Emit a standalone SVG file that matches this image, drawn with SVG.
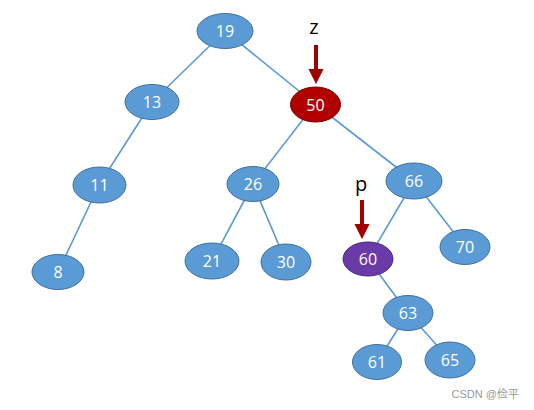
<svg xmlns="http://www.w3.org/2000/svg" width="534" height="410" viewBox="0 0 534 410">
<defs>
<style>
.n ellipse{fill:#5b9bd5;stroke:#41719c;stroke-width:1}
.n text{fill:#fff;font-family:"Open Sans","Liberation Sans",sans-serif;font-size:16px;text-anchor:middle;dominant-baseline:central}
#n50 ellipse{fill:#b00000;stroke:#7a0000}
#n60 ellipse{fill:#6a3aa8;stroke:#4a2880}
.e line{stroke:#5b9bd5;stroke-width:1.6}
.lbl{font-family:"Open Sans","Liberation Sans",sans-serif;font-size:20px;fill:#000;text-anchor:middle}
.ar{stroke:#a00000;stroke-width:4;fill:none}
</style>
<marker id="ah" viewBox="0 0 10 10" refX="2" refY="5" markerWidth="3.8" markerHeight="3.8" orient="auto" markerUnits="strokeWidth">
<path d="M0,0 L10,5 L0,10 z" fill="#a00000"/>
</marker>
</defs>
<rect width="534" height="410" fill="#fff"/>
<g id="edges" class="e">
<line x1="225" y1="31" x2="152" y2="102"/>
<line x1="225" y1="31" x2="315" y2="104"/>
<line x1="152" y1="102" x2="99" y2="185"/>
<line x1="99" y1="185" x2="58" y2="272"/>
<line x1="315" y1="104" x2="253" y2="184"/>
<line x1="315" y1="104" x2="414" y2="181"/>
<line x1="253" y1="184" x2="212" y2="261"/>
<line x1="253" y1="184" x2="286" y2="262"/>
<line x1="414" y1="181" x2="368" y2="259"/>
<line x1="414" y1="181" x2="465" y2="247"/>
<line x1="368" y1="259" x2="408" y2="313"/>
<line x1="408" y1="313" x2="377" y2="362"/>
<line x1="408" y1="313" x2="450" y2="360"/>
</g>
<g id="n19" class="n"><ellipse cx="225" cy="31" rx="28" ry="17.5"/><text x="225" y="31">19</text></g>
<g id="n13" class="n"><ellipse cx="152" cy="102" rx="27" ry="17.5"/><text x="152" y="102">13</text></g>
<g id="n50" class="n"><ellipse cx="315.5" cy="104.5" rx="25" ry="17.5"/><text x="315.5" y="104.5">50</text></g>
<g id="n11" class="n"><ellipse cx="99.5" cy="185" rx="26.5" ry="18"/><text x="99.5" y="185">11</text></g>
<g id="n8" class="n"><ellipse cx="58" cy="272" rx="26" ry="17.5"/><text x="58" y="272">8</text></g>
<g id="n26" class="n"><ellipse cx="253" cy="184" rx="26" ry="17.5"/><text x="253" y="184">26</text></g>
<g id="n21" class="n"><ellipse cx="212" cy="261" rx="27" ry="18"/><text x="212" y="261">21</text></g>
<g id="n30" class="n"><ellipse cx="286" cy="262" rx="25" ry="18"/><text x="286" y="262">30</text></g>
<g id="n66" class="n"><ellipse cx="414" cy="181" rx="28" ry="18"/><text x="414" y="181">66</text></g>
<g id="n70" class="n"><ellipse cx="465" cy="247" rx="25" ry="17.5"/><text x="465" y="247">70</text></g>
<g id="n60" class="n"><ellipse cx="368" cy="259" rx="25" ry="17"/><text x="368" y="259">60</text></g>
<g id="n63" class="n"><ellipse cx="408" cy="313" rx="25" ry="17.5"/><text x="408" y="313">63</text></g>
<g id="n61" class="n"><ellipse cx="377" cy="362" rx="24.5" ry="17.5"/><text x="377" y="362">61</text></g>
<g id="n65" class="n"><ellipse cx="450" cy="360" rx="25" ry="18"/><text x="450" y="360">65</text></g>
<g id="pointers">
<text class="lbl" x="314" y="34">z</text>
<line class="ar" x1="316" y1="45" x2="316" y2="72" marker-end="url(#ah)"/>
<text class="lbl" x="361" y="191">p</text>
<line class="ar" x1="362" y1="200" x2="362" y2="227" marker-end="url(#ah)"/>
</g>
<text x="519" y="398" font-family="'Liberation Sans','Noto Sans CJK SC',sans-serif" font-size="11" fill="#999" text-anchor="end">CSDN @俭平</text>
</svg>
